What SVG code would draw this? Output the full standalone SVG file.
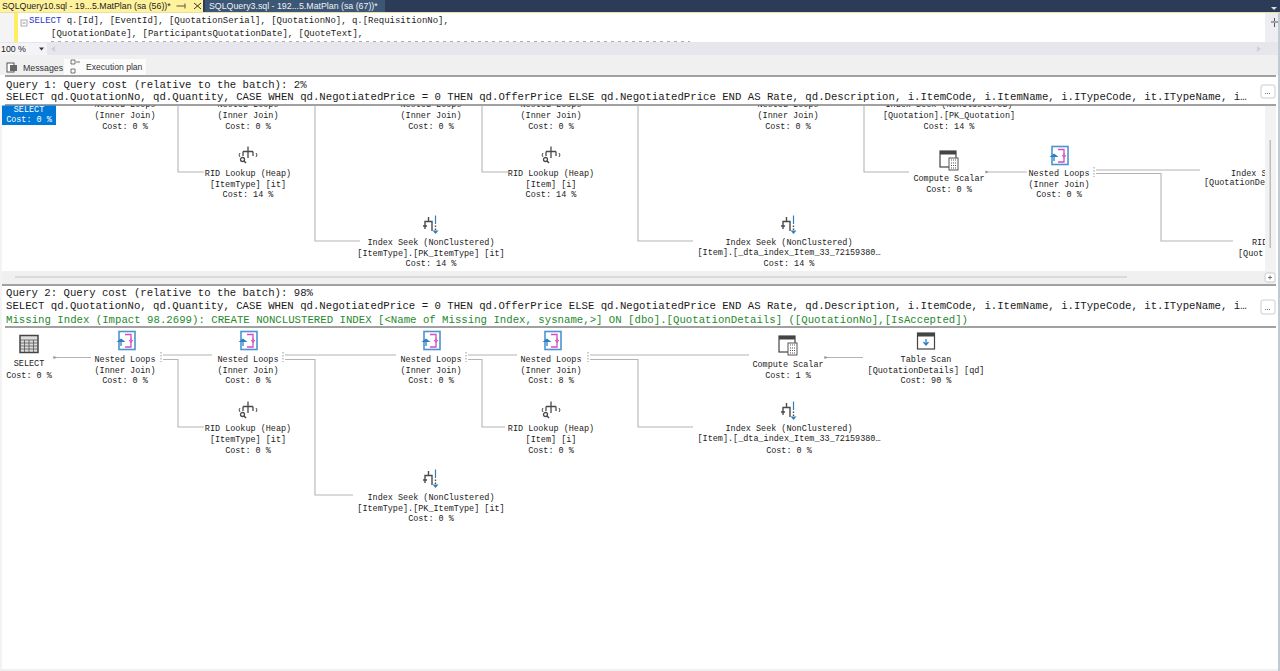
<svg xmlns="http://www.w3.org/2000/svg" width="1280" height="671" viewBox="0 0 1280 671">
<style>
.m{font-family:"Liberation Mono",monospace;font-size:10.67px;fill:#1a1a1a}
.g{font-size:10.7px;fill:#1f8a2e}
.n{font-family:"Liberation Mono",monospace;font-size:8.47px;fill:#222;text-anchor:middle}
.st{font-family:"Liberation Mono",monospace;font-size:8.47px;fill:#222}
.e{font-family:"Liberation Mono",monospace;font-size:8.97px;fill:#222}
.t{font-family:"Liberation Sans",sans-serif;font-size:8.8px}
.c{fill:none;stroke:#b4b4b4;stroke-width:1.1}
.p{fill:none;stroke:#999;stroke-width:1;stroke-dasharray:1.5 1.5}
.h{stroke:#444;stroke-width:1.2}
</style>
<defs>
<marker id="ah" viewBox="0 0 6 6" refX="1" refY="3" markerWidth="4" markerHeight="4" orient="auto-start-reverse"><path d="M6 1L0 3L6 5Z" fill="#999"/></marker>
<clipPath id="p1"><rect x="0" y="105.500" width="1265" height="165.500"/></clipPath>
<g id="ic-nl">
<rect x="-7" y="-8.500" width="16" height="18" fill="#fff" stroke="#4a94d0" stroke-width="1.6"/>
<path d="M-1-5.500H5V7H-1" fill="none" stroke="#d64bc4" stroke-width="1.3"/>
<path d="M5-2V2M3 0L5 2.500L7 0" fill="none" stroke="#d64bc4"/>
<path d="M-5 2V6" stroke="#2f7fc0" stroke-width="1.3"/>
<path d="M-9.500 2H-.5L-5-1.500Z" fill="#2f7fc0"/>
</g>
<g id="ic-rid" fill="none" stroke="#4a4a4a" stroke-width="1.3">
<path d="M0-8.500V3M-5 -3.500H5M-5 -3.500V1M5 -3.500V1"/>
<path d="M-8 -2Q-10 0 -8 2M8 -2Q10 0 8 2" stroke-width="1"/>
<circle cx="-5.500" cy="4.500" r="2"/><path d="M-4 6L-2 8" stroke-width="1.600"/>
</g>
<g id="ic-seek" fill="none" stroke="#4a4a4a" stroke-width="1.4">
<path d="M-6 5V-2.500H1V7M-8 2H-4M-2.500 -7V-2.500"/>
<path d="M4.500 -8.500V0" stroke="#2f7fc0" stroke-width="1.2"/><path d="M4.500 1.500V6" stroke-dasharray="1.500 1.500"/>
<path d="M1.500 6.500H7.500L4.500 10Z" fill="#2f7fc0" stroke="none"/>
</g>
<g id="ic-cs">
<rect x="-9" y="-9" width="16" height="16" fill="#fff" stroke="#444" stroke-width="1.2"/>
<rect x="-9" y="-9" width="16" height="3.500" fill="#444"/>
<rect x="0" y="-2" width="9" height="12" fill="#fff" stroke="#555"/>
<path d="M2 0H7M2 3H7M2 5.500H7M2 8H7" stroke="#555" stroke-dasharray="1 1"/>
</g>
<g id="ic-ts">
<rect x="-8.500" y="-8" width="17" height="16" fill="#fff" stroke="#444" stroke-width="1.2"/>
<rect x="-8.500" y="-8" width="17" height="3.500" fill="#444"/>
<path d="M0 -2V3M-2.500 1L0 4L2.500 1" fill="none" stroke="#2f7fc0" stroke-width="1.3"/>
</g>
<g id="ic-sel">
<rect x="-9" y="-8.500" width="18" height="17" fill="#ddd" stroke="#444" stroke-width="1.5"/>
<path d="M-9 -4H9M-9 -1H9M-9 2H9M-9 5H9M-4.500 -4V8M0 -4V8M4.500 -4V8" stroke="#555" stroke-width=".8"/>
</g>
</defs>

<rect width="1280" height="671" fill="#fff"/>
<rect x="0" y="105" width="2" height="566" fill="#f3f3f3"/>
<rect x="0" y="669" width="1278" height="2" fill="#f0f0f0"/>
<rect x="1278" y="13" width="2" height="658" fill="#c4cad4"/>
<g id="chrome">
<rect width="1280" height="12" fill="#2c3b57"/>
<rect width="203" height="12" fill="#fff29d"/>
<rect x="205" width="180" height="12" fill="#3c5676"/>
<rect y="12" width="1280" height="1" fill="#e8e0a0"/>
<text class="t" x="2" y="9" fill="#222">SQLQuery10.sql - 19...5.MatPlan (sa (56))*</text>
<path d="M181 6H185M185 3.500V8.500M176.500 6H181" stroke="#444" stroke-width=".9" fill="none"/>
<path d="M194 3L201 9M201 3L194 9" stroke="#333" stroke-width="1"/>
<text class="t" x="209" y="9" fill="#f2f2f2">SQLQuery3.sql - 192...5.MatPlan (sa (67))*</text>
<path d="M1271 7L1277 7L1274 10Z" fill="#ddd"/>
<rect x="0" y="13" width="14" height="29" fill="#f4f4f4"/>
<rect x="14" y="13" width="4" height="29" fill="#ffee62"/>
<rect x="21" y="20" width="6" height="6" fill="#fff" stroke="#888" stroke-width=".7"/>
<path d="M22.500 23H25.500" stroke="#666" stroke-width=".7"/>
<text class="e" x="29" y="23"><tspan fill="#2a35d0">SELECT</tspan> q.[Id], [EventId], [QuotationSerial], [QuotationNo], q.[RequisitionNo],</text>
<text class="e" x="51" y="36">[QuotationDate], [ParticipantsQuotationDate], [QuoteText],</text>
<path d="M51 41.500H690" stroke="#aaa" stroke-width="1" stroke-dasharray="3 4"/>
<rect x="1265" y="13" width="13" height="29" fill="#eeeef2"/>
<path d="M1271 22H1278M1274.500 18V21M1274.500 23V27" stroke="#555"/>
<rect y="42" width="1278" height="13" fill="#e6e6ec"/>
<rect x="0" y="43" width="47" height="12" fill="#f4f4f6"/>
<text class="t" x="1" y="52" fill="#222">100 %</text>
<path d="M39 47.500H44L41.500 50.500Z" fill="#333"/>
<path d="M55 46L51 49L55 52ZM1257 46L1261 49L1257 52Z" fill="#cfcfd6"/>
<rect y="55" width="1278" height="20" fill="#f0f0f0"/>
<rect x="64" y="59" width="82" height="17" fill="#fbfbfb"/>
<rect x="7" y="63" width="7" height="9" fill="#fff" stroke="#555"/>
<rect x="10" y="65" width="7" height="6" fill="#666"/>
<text class="t" x="23" y="71" fill="#333">Messages</text>
<path d="M71 60H75V64H71ZM71 69H75V73H71ZM76 62H80" fill="none" stroke="#555" stroke-width=".8"/>
<text class="t" x="86" y="70" style="font-size:8.6px" fill="#333">Execution plan</text>
</g>

<g id="query1-header">
<rect x="0" y="76" width="1278" height="29" fill="#fff"/>
<path class="h" d="M5 76H1276M5 105H1276"/>
<text class="m" x="6" y="88">Query 1: Query cost (relative to the batch): 2%</text>
<text class="m" x="6" y="100">SELECT qd.QuotationNo, qd.Quantity, CASE WHEN qd.NegotiatedPrice = 0 THEN qd.OfferPrice ELSE qd.NegotiatedPrice END AS Rate, qd.Description, i.ItemCode, i.ItemName, i.ITypeCode, it.ITypeName, i…</text>
<rect x="1261" y="85" width="14" height="13" rx="2" fill="#fff" stroke="#ccc"/>
<path d="M1265 93.500H1271" stroke="#777" stroke-width="1" stroke-dasharray="1 1"/>
</g>

<g id="connectors-q1" clip-path="url(#p1)">
<path class="c" d="M178 100V172H204M315 100V241H360M482 100V172H508M638 100V241H693M864 100V172H909"/>
<path class="c" d="M989 172H1027" marker-start="url(#ah)"/>
<path class="c" d="M1096 170H1200M1096 173.500H1161V241H1233"/>
<path class="p" d="M1094 167V177"/>
</g>

<g id="q1-nodes" clip-path="url(#p1)">
<g id="q1-select"><rect x="2" y="105" width="54" height="20" fill="#0078d7"/><text class="n" x="29" y="112" style="fill:#fff">SELECT</text><text class="n" x="29" y="122" style="fill:#fff">Cost: 0 %</text></g>
<g id="q1-nl1"><text class="n" x="125" y="107">Nested Loops</text><text class="n" x="125" y="118">(Inner Join)</text><text class="n" x="125" y="129">Cost: 0 %</text></g>
<g id="q1-nl2"><text class="n" x="248" y="107">Nested Loops</text><text class="n" x="248" y="118">(Inner Join)</text><text class="n" x="248" y="129">Cost: 0 %</text></g>
<g id="q1-nl3"><text class="n" x="431" y="107">Nested Loops</text><text class="n" x="431" y="118">(Inner Join)</text><text class="n" x="431" y="129">Cost: 0 %</text></g>
<g id="q1-nl4"><text class="n" x="551" y="107">Nested Loops</text><text class="n" x="551" y="118">(Inner Join)</text><text class="n" x="551" y="129">Cost: 0 %</text></g>
<g id="q1-nl5"><text class="n" x="788" y="107">Nested Loops</text><text class="n" x="788" y="118">(Inner Join)</text><text class="n" x="788" y="129">Cost: 0 %</text></g>
<g id="q1-seek0"><text class="n" x="949" y="107">Index Seek (NonClustered)</text><text class="n" x="949" y="118">[Quotation].[PK_Quotation]</text><text class="n" x="949" y="129">Cost: 14 %</text></g>
<g id="q1-rid1"><use href="#ic-rid" x="248" y="155"/><text class="n" x="248" y="176">RID Lookup (Heap)</text><text class="n" x="248" y="187">[ItemType] [it]</text><text class="n" x="248" y="197">Cost: 14 %</text></g>
<g id="q1-seek1"><use href="#ic-seek" x="431" y="224"/><text class="n" x="431" y="245">Index Seek (NonClustered)</text><text class="n" x="431" y="256">[ItemType].[PK_ItemType] [it]</text><text class="n" x="431" y="266">Cost: 14 %</text></g>
<g id="q1-rid2"><use href="#ic-rid" x="551" y="155"/><text class="n" x="551" y="176">RID Lookup (Heap)</text><text class="n" x="551" y="187">[Item] [i]</text><text class="n" x="551" y="197">Cost: 14 %</text></g>
<g id="q1-seek2"><use href="#ic-seek" x="789" y="224"/><text class="n" x="789" y="245">Index Seek (NonClustered)</text><text class="n" x="789" y="255">[Item].[_dta_index_Item_33_72159380…</text><text class="n" x="789" y="266">Cost: 14 %</text></g>
<g id="q1-cs"><use href="#ic-cs" x="949" y="160"/><text class="n" x="949" y="181">Compute Scalar</text><text class="n" x="949" y="192">Cost: 0 %</text></g>
<g id="q1-nl6"><use href="#ic-nl" x="1059" y="155"/><text class="n" x="1059" y="176">Nested Loops</text><text class="n" x="1059" y="187">(Inner Join)</text><text class="n" x="1059" y="197">Cost: 0 %</text></g>
<g id="q1-seek3"><text class="st" x="1231" y="176">Index S</text><text class="st" x="1204" y="185">[QuotationDe</text></g>
<g id="q1-rid3"><text class="st" x="1252" y="245">RID</text><text class="st" x="1238" y="256">[Quot</text></g>
</g>

<g id="scrolls">
<rect x="1265" y="106" width="11" height="165" fill="#f2f2f2"/>
<rect x="1269.500" y="140" width="1.500" height="108" fill="#bdbdbd"/>
<rect x="2" y="271" width="1274" height="13" fill="#f0f0f0"/>
<path d="M15 277H1127" stroke="#c4c4c4" stroke-width="1.200"/>
<rect x="1265" y="273" width="10" height="9" rx="2" fill="#fff" stroke="#ccc"/>
<path d="M1268 277.500H1272M1270 275.500V279.500" stroke="#444" stroke-width=".7"/>
</g>

<g id="query2-header">
<path class="h" d="M2 285H1276M5 327H1276"/>
<text class="m" x="6" y="296">Query 2: Query cost (relative to the batch): 98%</text>
<text class="m" x="6" y="309">SELECT qd.QuotationNo, qd.Quantity, CASE WHEN qd.NegotiatedPrice = 0 THEN qd.OfferPrice ELSE qd.NegotiatedPrice END AS Rate, qd.Description, i.ItemCode, i.ItemName, i.ITypeCode, it.ITypeName, i…</text>
<text class="m g" x="6" y="322.500">Missing Index (Impact 98.2699): CREATE NONCLUSTERED INDEX [&lt;Name of Missing Index, sysname,&gt;] ON [dbo].[QuotationDetails] ([QuotationNo],[IsAccepted])</text>
<rect x="1261" y="300" width="14" height="14" rx="2" fill="#fff" stroke="#ccc"/>
<path d="M1265 309.500H1271" stroke="#777" stroke-width="1" stroke-dasharray="1 1"/>
</g>

<g id="connectors">
<path class="c" d="M57 357.500H91" marker-start="url(#ah)"/>
<path class="c" d="M163 355H212M163 359.500H178V427H204"/>
<path class="c" d="M285 355H396M285 359.500H315V495H353"/>
<path class="c" d="M468 355H517M468 359.500H482V427H505"/>
<path class="c" d="M590 355H749M590 359.500H638V427H693"/>
<path class="c" d="M828 357.500H863" marker-start="url(#ah)"/>
<path class="p" d="M161 352V362M283 352V362M466 352V362M588 352V362"/>
</g>

<g id="n-select"><use href="#ic-sel" x="29" y="344"/><text class="n" x="29" y="366">SELECT</text><text class="n" x="29" y="378">Cost: 0 %</text></g>
<g id="n-nl1"><use href="#ic-nl" x="126" y="340"/><text class="n" x="125" y="362">Nested Loops</text><text class="n" x="125" y="373">(Inner Join)</text><text class="n" x="125" y="383">Cost: 0 %</text></g>
<g id="n-nl2"><use href="#ic-nl" x="248" y="340"/><text class="n" x="248" y="362">Nested Loops</text><text class="n" x="248" y="373">(Inner Join)</text><text class="n" x="248" y="383">Cost: 0 %</text></g>
<g id="n-nl3"><use href="#ic-nl" x="431" y="340"/><text class="n" x="431" y="362">Nested Loops</text><text class="n" x="431" y="373">(Inner Join)</text><text class="n" x="431" y="383">Cost: 0 %</text></g>
<g id="n-nl4"><use href="#ic-nl" x="552" y="340"/><text class="n" x="551" y="362">Nested Loops</text><text class="n" x="551" y="373">(Inner Join)</text><text class="n" x="551" y="383">Cost: 8 %</text></g>
<g id="n-cs"><use href="#ic-cs" x="788" y="345"/><text class="n" x="788" y="367">Compute Scalar</text><text class="n" x="788" y="378">Cost: 1 %</text></g>
<g id="n-ts"><use href="#ic-ts" x="926" y="341"/><text class="n" x="926" y="362">Table Scan</text><text class="n" x="926" y="373">[QuotationDetails] [qd]</text><text class="n" x="926" y="383">Cost: 90 %</text></g>
<g id="n-rid1"><use href="#ic-rid" x="248" y="410"/><text class="n" x="248" y="431">RID Lookup (Heap)</text><text class="n" x="248" y="442">[ItemType] [it]</text><text class="n" x="248" y="453">Cost: 0 %</text></g>
<g id="n-seek1"><use href="#ic-seek" x="431" y="478"/><text class="n" x="431" y="500">Index Seek (NonClustered)</text><text class="n" x="431" y="511">[ItemType].[PK_ItemType] [it]</text><text class="n" x="431" y="521">Cost: 0 %</text></g>
<g id="n-rid2"><use href="#ic-rid" x="551" y="410"/><text class="n" x="551" y="431">RID Lookup (Heap)</text><text class="n" x="551" y="442">[Item] [i]</text><text class="n" x="551" y="453">Cost: 0 %</text></g>
<g id="n-seek2"><use href="#ic-seek" x="789" y="410"/><text class="n" x="789" y="431">Index Seek (NonClustered)</text><text class="n" x="789" y="441">[Item].[_dta_index_Item_33_72159380…</text><text class="n" x="789" y="453">Cost: 0 %</text></g>
</svg>
